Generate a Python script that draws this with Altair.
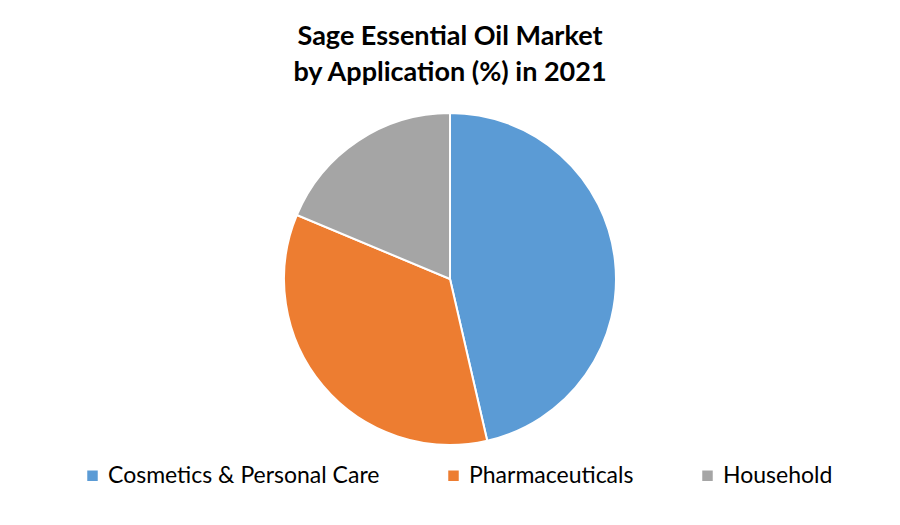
import altair as alt
import pandas as pd

categories = ["Cosmetics & Personal Care", "Pharmaceuticals", "Household"]
shares = [46.4, 34.9, 18.7]
colors = ["#5B9BD5", "#ED7D31", "#A5A5A5"]
title_lines = ["Sage Essential Oil Market", "by Application (%) in 2021"]

df = pd.DataFrame({"Application": categories, "Share": shares, "idx": list(range(len(categories)))})
tdf = pd.DataFrame({"t": ["title"]})

FONT = "Lato"

pie = alt.Chart(df).mark_arc(radius=166, stroke="white", strokeWidth=2).encode(
    theta=alt.Theta("Share:Q", stack=True),
    order=alt.Order("idx:O"),
    color=alt.Color(
        "Application:N",
        scale=alt.Scale(domain=categories, range=colors),
        legend=alt.Legend(
            orient="none", legendX=73, legendY=456, direction="horizontal", columns=3,
            title=None, symbolType="square", symbolSize=110, symbolStrokeWidth=0,
            labelFontSize=23, labelFont=FONT, labelColor="#000000", columnPadding=62,
            labelOffset=4, labelLimit=400,
        ),
    ),
    x=alt.value(442),
    y=alt.value(271),
)

title = alt.Chart(tdf).mark_text(
    font=FONT, fontSize=27, fontWeight="bold", color="#000000",
    baseline="middle", align="center", lineHeight=36,
).encode(
    text=alt.value(title_lines),
    x=alt.value(442),
    y=alt.value(29),
)

chart = alt.layer(pie, title).properties(
    width=884, height=509,
    autosize=alt.AutoSizeParams(type="none"),
    padding=0,
    background="white",
).configure_view(stroke=None)

chart.save("out.html", embed_options={"renderer": "svg", "actions": False})
